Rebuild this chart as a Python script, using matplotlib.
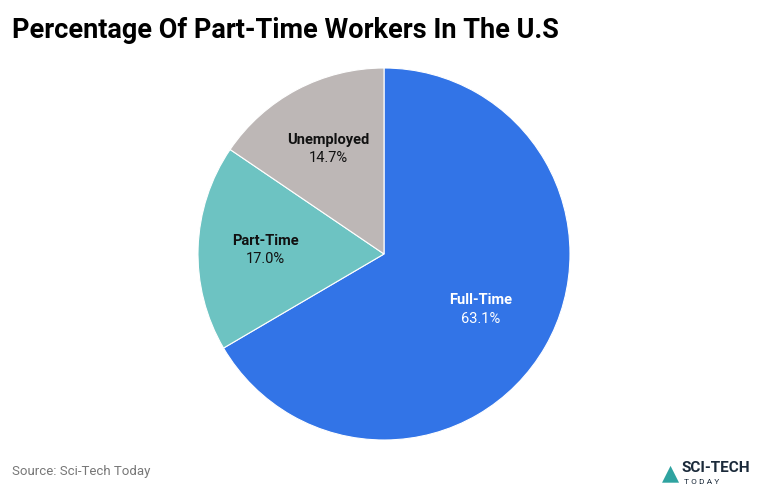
import numpy as np
import matplotlib
matplotlib.use("Agg")
import matplotlib.pyplot as plt

plt.rcParams["font.family"] = ["Roboto", "DejaVu Sans"]

labels = ["Full-Time", "Part-Time", "Unemployed"]
values = [63.1, 17.0, 14.7]
colors = ["#3274E7", "#6DC3C2", "#BDB7B6"]
text_colors = ["white", "#111111", "#111111"]

fig = plt.figure(figsize=(7.68, 4.92), dpi=100)
ax = fig.add_axes([198 / 768, 52 / 492, 372 / 768, 372 / 492])
wedges, _ = ax.pie(values, colors=colors, startangle=90, counterclock=False,
                   wedgeprops=dict(edgecolor="white", linewidth=0.8))
ax.set_xlim(-1, 1)
ax.set_ylim(-1, 1)
ax.set_aspect("equal")

for w, lab, v, tc in zip(wedges, labels, values, text_colors):
    ang = np.deg2rad((w.theta1 + w.theta2) / 2)
    d = 0.6 if lab == "Full-Time" else 0.64
    x, y = d * np.cos(ang), d * np.sin(ang)
    ax.text(x, y + 0.05, lab, ha="center", va="center", fontsize=10.5, fontweight="bold", color=tc)
    ax.text(x, y - 0.05, f"{v:.1f}%", ha="center", va="center", fontsize=10.5, color=tc)

fig.text(12 / 768, 1 - 30 / 492, "Percentage Of Part-Time Workers In The U.S",
         fontsize=19.5, fontweight="bold", va="center", ha="left")
fig.text(12 / 768, 1 - 471 / 492, "Source: Sci-Tech Today", fontsize=9.5,
         color="#777777", va="center", ha="left")
fig.text(682 / 768, 1 - 468 / 492, "SCI-TECH", fontsize=11, fontweight="bold",
         color="#1b2a3a", va="center", ha="left")
fig.text(684 / 768, 1 - 482 / 492, "T O D A Y", fontsize=6, color="#1b2a3a",
         va="center", ha="left")
fig.text(662 / 768, 1 - 474 / 492, "\u25B2", fontsize=16, color="#2fa3a0",
         va="center", ha="left")

fig.savefig("out.png", dpi=100)
